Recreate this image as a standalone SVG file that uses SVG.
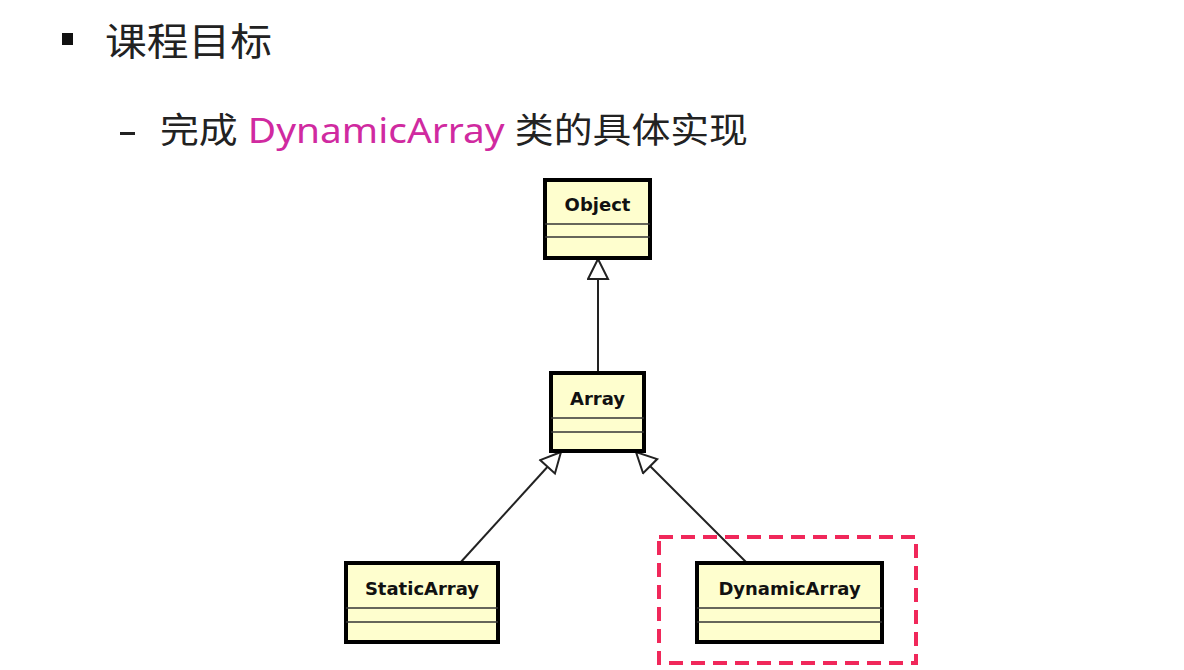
<svg xmlns="http://www.w3.org/2000/svg" width="1184" height="670" viewBox="0 0 1184 670">
<style>
.t{font-family:"Noto Sans","Noto Sans CJK SC",sans-serif;fill:#222}
.box{fill:#fefece;stroke:#000;stroke-width:4}
.sep{stroke:#333;stroke-width:1.5}
.lbl{font-family:"DejaVu Sans",sans-serif;font-weight:bold;font-size:18px;text-anchor:middle;fill:#111}
.con{stroke:#222;stroke-width:2;fill:none;marker-end:url(#tri)}
</style>
<defs>
<marker id="tri" markerWidth="24" markerHeight="24" refX="22" refY="11" orient="auto" markerUnits="userSpaceOnUse">
<path d="M2,1 L22,11 L2,21 Z" fill="#fff" stroke="#222" stroke-width="2"/>
</marker>
</defs>
<rect width="1184" height="670" fill="#fff"/>
<rect x="62" y="33" width="11" height="12" fill="#111"/>
<text class="t" x="105" y="55" font-size="38" textLength="167" lengthAdjust="spacingAndGlyphs">课程目标</text>
<rect x="120" y="132" width="15" height="3" fill="#222"/>
<text class="t" x="160" y="143" font-size="35" textLength="588" lengthAdjust="spacingAndGlyphs">完成 <tspan fill="#d02aa0">DynamicArray</tspan> 类的具体实现</text>
<g id="connectors">
<line class="con" x1="598" y1="373" x2="598" y2="259"/>
<line class="con" x1="460" y1="563" x2="561" y2="452"/>
<line class="con" x1="747" y1="563" x2="636" y2="452"/>
</g>
<g id="Object">
<rect class="box" x="545" y="180" width="105" height="78"/>
<line class="sep" x1="545" y1="224" x2="650" y2="224"/><line class="sep" x1="545" y1="237" x2="650" y2="237"/>
<text class="lbl" x="597.5" y="211">Object</text>
</g>
<g id="Array">
<rect class="box" x="551" y="373" width="93" height="78"/>
<line class="sep" x1="551" y1="418" x2="644" y2="418"/><line class="sep" x1="551" y1="432" x2="644" y2="432"/>
<text class="lbl" x="597.5" y="405">Array</text>
</g>
<g id="StaticArray">
<rect class="box" x="346" y="563" width="152" height="79"/>
<line class="sep" x1="346" y1="608" x2="498" y2="608"/><line class="sep" x1="346" y1="622" x2="498" y2="622"/>
<text class="lbl" x="422" y="595">StaticArray</text>
</g>
<g id="DynamicArray">
<rect class="box" x="697" y="563" width="185" height="79"/>
<line class="sep" x1="697" y1="608" x2="882" y2="608"/><line class="sep" x1="697" y1="622" x2="882" y2="622"/>
<text class="lbl" x="789.5" y="595">DynamicArray</text>
</g>
<rect x="659" y="537" width="257" height="126" fill="none" stroke="#f0285a" stroke-width="4" stroke-dasharray="14 8"/>
</svg>
